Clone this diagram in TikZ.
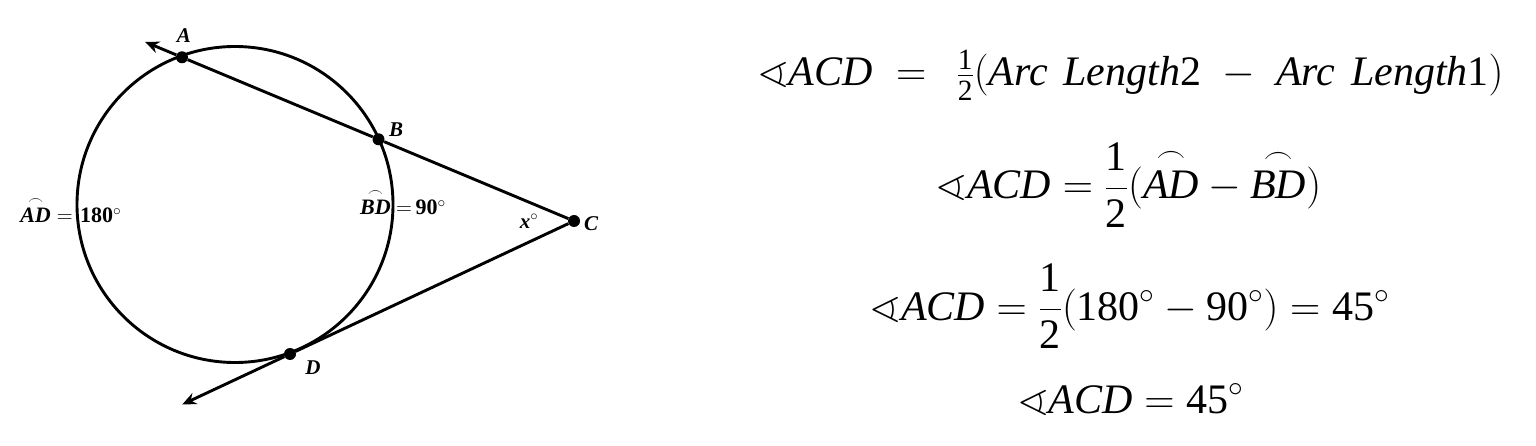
\RequirePackage{fix-cm}
\documentclass[tikz,border=0pt]{standalone}
\usepackage{amsmath,amssymb,graphicx}
\usepackage{fontspec}
\setmainfont{Liberation Serif}
\usetikzlibrary{arrows.meta}
\newcommand{\arcover}[1]{\overset{\frown}{#1}}
\newcommand{\nm}[1]{\textup{#1}}
\newcommand{\dg}{^{\circ}}
\begin{document}
\begin{tikzpicture}[x=1pt,y=-1pt,
  geo/.style={line width=2.9pt, black},
  tipped/.style={geo, -{Stealth[length=14pt,width=12pt]}},
  dot/.style={circle, fill=black, inner sep=0pt, minimum size=12pt},
  lbl/.style={font=\fontsize{21}{25}\selectfont\bfseries\itshape, inner sep=0pt},
  arclbl/.style={font=\fontsize{22}{26}\selectfont\bfseries\itshape, inner sep=0pt},
  eqbig/.style={font=\fontsize{42}{50}\selectfont, anchor=base, inner sep=0pt}]
\useasboundingbox (0,0) rectangle (1536,446);
% circle
\draw[geo] (235,204.5) circle[radius=158];
% points
\node[dot] (A) at (182,57.3) {};
\node[dot] (B) at (378.5,139.3) {};
\node[dot] (C) at (574,221) {};
\node[dot] (D) at (290,354) {};
\coordinate (TA) at (145.1,41.9);
\coordinate (TD) at (182.2,404.5);
% secants
\draw[geo] (C) -- (B);
\draw[geo] (B) -- (A);
\draw[tipped] (A) -- (TA);
\draw[geo] (C) -- (D);
\draw[tipped] (D) -- (TD);
% point labels
\node[lbl] (lA) at (184,36) {A};
\node[lbl] (lB) at (396,130) {B};
\node[lbl] (lC) at (591,224) {C};
\node[lbl] (lD) at (313,368) {D};
\node[lbl] (lx) at (529,221) {x$\dg$};
% arc labels
\node[arclbl, anchor=base east] (ad1) at (73,223) {$\arcover{\textit{AD}}=$};
\node[arclbl, anchor=base west] (ad2) at (80,223) {\upshape 180$\dg$};
\node[arclbl, anchor=base east] (bd1) at (391,215) {$\arcover{\textit{BD}}$};
\node[arclbl, anchor=base west] (bd2) at (396,215) {$=$\,\upshape 90$\dg$};
% equations
\node[eqbig] (e1) at (1131,86) {$\sphericalangle\textit{ACD}\;=\;\,\tfrac{\nm{1}}{\nm{2}}(\textit{Arc\hspace{0.38em}Length}\nm{2}\;-\;\textit{Arc\hspace{0.38em}Length}\nm{1})$};
\node[eqbig] (e2) at (1129,199) {$\sphericalangle\textit{ACD} = \dfrac{\nm{1}}{\nm{2}}(\arcover{\textit{AD}} - \arcover{\textit{BD}})$};
\node[eqbig] (e3) at (1130,320) {$\sphericalangle\textit{ACD} = \dfrac{\nm{1}}{\nm{2}}(\nm{180}\dg - \nm{90}\dg) = \nm{45}\dg$};
\node[eqbig] (e4) at (1131,413) {$\sphericalangle\textit{ACD} = \nm{45}\dg$};
\end{tikzpicture}
\end{document}
